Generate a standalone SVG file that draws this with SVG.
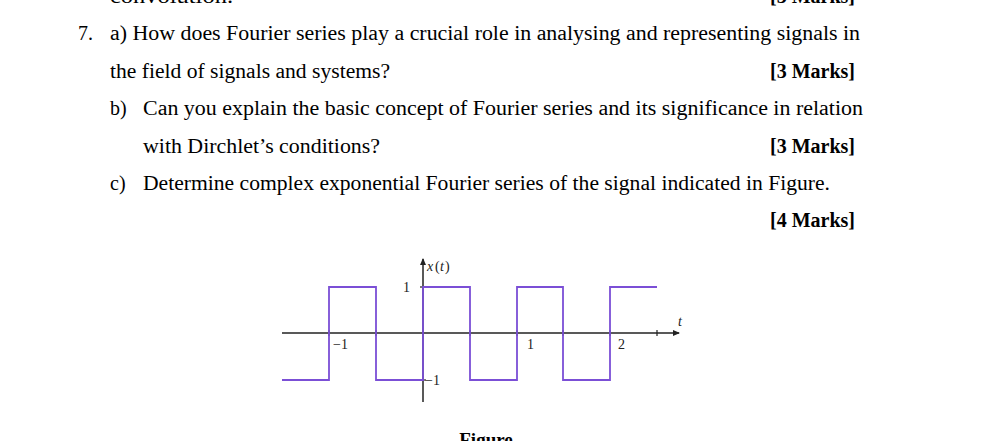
<svg xmlns="http://www.w3.org/2000/svg" width="994" height="441" viewBox="0 0 994 441">
<style>
.t{font-family:"Liberation Serif",serif;font-size:20px;fill:#000}
.b{font-weight:bold;text-anchor:end}
.m{font-family:"Liberation Serif",serif;font-size:14px;fill:#222}
.i{font-style:italic}
</style>
<defs><marker id="ar" markerWidth="8" markerHeight="8" refX="6" refY="4" orient="auto" markerUnits="userSpaceOnUse"><path d="M0,1 L7,4 L0,7 Z" fill="#222"/></marker></defs>
<rect width="994" height="441" fill="#fff"/>
<g id="text">
<text class="t" x="110" y="3" textLength="123" lengthAdjust="spacingAndGlyphs">convolution.</text>
<text class="t b" x="855" y="3">[3 Marks]</text>
<text class="t" x="78" y="40">7.</text>
<text class="t" x="110" y="40" textLength="750" lengthAdjust="spacingAndGlyphs">a) How does Fourier series play a crucial role in analysing and representing signals in</text>
<text class="t" x="110" y="78" textLength="280" lengthAdjust="spacingAndGlyphs">the field of signals and systems?</text>
<text class="t b" x="855" y="78">[3 Marks]</text>
<text class="t" x="110" y="115">b)</text>
<text class="t" x="143" y="115" textLength="720" lengthAdjust="spacingAndGlyphs">Can you explain the basic concept of Fourier series and its significance in relation</text>
<text class="t" x="143" y="153" textLength="237" lengthAdjust="spacingAndGlyphs">with Dirchlet’s conditions?</text>
<text class="t b" x="855" y="153">[3 Marks]</text>
<text class="t" x="110" y="190">c)</text>
<text class="t" x="143" y="190" textLength="687" lengthAdjust="spacingAndGlyphs">Determine complex exponential Fourier series of the signal indicated in Figure.</text>
<text class="t b" x="855" y="227">[4 Marks]</text>
<text class="t" x="486" y="446" style="font-weight:bold;text-anchor:middle;font-size:19px">Figure</text>
</g>
<g id="plot">
<line x1="282" y1="333" x2="679" y2="333" stroke="#222" stroke-width="1.5" marker-end="url(#ar)"/>
<line x1="423" y1="402" x2="423" y2="259" stroke="#222" stroke-width="1.5" marker-end="url(#ar)"/>
<g stroke="#222" stroke-width="1.2">
<line x1="329" y1="330" x2="329" y2="336"/><line x1="376" y1="330" x2="376" y2="336"/><line x1="470" y1="330" x2="470" y2="336"/><line x1="517" y1="330" x2="517" y2="336"/><line x1="563" y1="330" x2="563" y2="336"/><line x1="610" y1="330" x2="610" y2="336"/><line x1="657" y1="330" x2="657" y2="336"/>
<line x1="420" y1="287" x2="426" y2="287"/><line x1="420" y1="380" x2="426" y2="380"/>
</g>
<path d="M282,380 H329 V287 H376 V380 H423 V287 H470 V380 H517 V287 H563 V380 H610 V287 H657" fill="none" stroke="#7b4fd6" stroke-width="1.8"/>
<text class="m i" x="427" y="271">x</text><text class="m" x="435" y="271">(</text><text class="m i" x="440" y="271">t</text><text class="m" x="445" y="271">)</text>
<text class="m i" x="678" y="326">t</text>
<text class="m" x="403" y="292">1</text>
<text class="m" x="333" y="349">−1</text>
<text class="m" x="527" y="349">1</text>
<text class="m" x="618" y="349">2</text>
<text class="m" x="425" y="385">−1</text>
</g>
</svg>
